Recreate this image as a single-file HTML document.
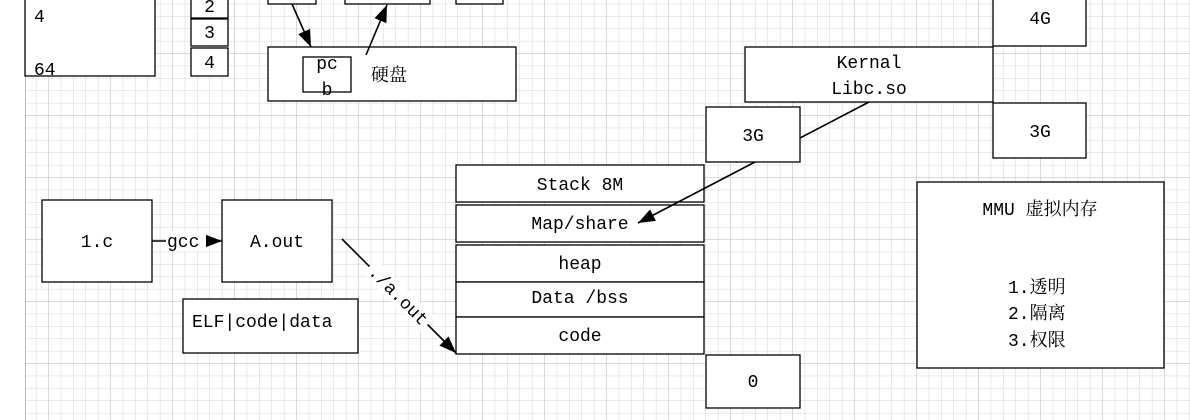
<!DOCTYPE html>
<html><head><meta charset="utf-8"><style>
html,body{margin:0;padding:0;background:#fff;}
svg{display:block;}
text{font-family:"Liberation Mono","Noto Serif CJK SC",monospace;font-size:18px;fill:#000;}
</style></head><body>
<svg width="1190" height="420" viewBox="0 0 1190 420" xmlns="http://www.w3.org/2000/svg">
<defs>
<pattern id="g" x="11.1" y="3.7" width="12.4" height="12.4" patternUnits="userSpaceOnUse">
<path d="M0 0H12.4M0 0V12.4" stroke="#d6d6d6" stroke-width="1" fill="none"/>
</pattern>
<pattern id="G" x="48.3" y="363.3" width="62" height="62" patternUnits="userSpaceOnUse">
<path d="M0 0H62M0 0V62" stroke="#c8c8c8" stroke-width="1" fill="none"/>
</pattern>
<marker id="b" viewBox="0 0 10 10" refX="10" refY="5" markerWidth="17" markerHeight="13" orient="auto" markerUnits="userSpaceOnUse" preserveAspectRatio="none">
<path d="M0 0L10 5L0 10z" fill="#000"/>
</marker>
</defs>
<rect x="25" y="0" width="1165" height="420" fill="url(#g)"/>
<rect x="25" y="0" width="1165" height="420" fill="url(#G)"/>
<line x1="25.5" y1="0" x2="25.5" y2="420" stroke="#bbb"/>
<g fill="#fff" stroke="#000" stroke-width="1.3">
<rect x="25" y="-2" width="130" height="78"/>
<rect x="191" y="-2" width="37" height="20"/>
<rect x="191" y="19" width="37" height="27"/>
<rect x="191" y="48" width="37" height="28"/>
<rect x="268" y="-2" width="48" height="6"/>
<rect x="345" y="-2" width="85" height="6"/>
<rect x="456" y="-2" width="47" height="6"/>
<rect x="268" y="47" width="248" height="54"/>
<rect x="303" y="57" width="48" height="35"/>
<rect x="42" y="200" width="110" height="82"/>
<rect x="222" y="200" width="110" height="82"/>
<rect x="183" y="299" width="175" height="54"/>
<rect x="456" y="165" width="248" height="37"/>
<rect x="456" y="205" width="248" height="37"/>
<rect x="456" y="245" width="248" height="37"/>
<rect x="456" y="282" width="248" height="35"/>
<rect x="456" y="317" width="248" height="37"/>
<rect x="706" y="355" width="94" height="53"/>
<rect x="993" y="-2" width="93" height="48"/>
<rect x="745" y="47" width="248" height="55"/>
<rect x="706" y="107" width="94" height="55"/>
<rect x="993" y="103" width="93" height="55"/>
<rect x="917" y="182" width="247" height="186"/>
</g>
<g stroke="#000" stroke-width="1.6" fill="none">
<line x1="292" y1="4" x2="311" y2="47" marker-end="url(#b)"/>
<line x1="366" y1="55" x2="387" y2="5" marker-end="url(#b)"/>
<line x1="152" y1="241" x2="222" y2="241" marker-end="url(#b)"/>
<line x1="342" y1="239" x2="456" y2="353" marker-end="url(#b)"/>
<line x1="869" y1="102" x2="800" y2="138"/>
<line x1="755" y1="162" x2="638" y2="223" marker-end="url(#b)"/>
</g>
<rect x="166" y="231" width="40" height="20" fill="#fff"/>
<text x="167" y="247">gcc</text>
<g transform="translate(398,296) rotate(45)">
<rect x="-41" y="-11" width="82" height="20" fill="#fff"/>
<text x="0" y="5" text-anchor="middle">./a.out</text>
</g>
<text x="34" y="22">4</text>
<text x="34" y="75">64</text>
<text x="209.5" y="12" text-anchor="middle">2</text>
<text x="209.5" y="38" text-anchor="middle">3</text>
<text x="209.5" y="68" text-anchor="middle">4</text>
<text x="327" y="69" text-anchor="middle" font-size="16">pc</text>
<text x="327" y="95" text-anchor="middle" font-size="16">b</text>
<text x="371" y="81">硬盘</text>
<text x="97" y="247" text-anchor="middle">1.c</text>
<text x="277" y="247" text-anchor="middle">A.out</text>
<text x="192" y="327">ELF|code|data</text>
<text x="580" y="190" text-anchor="middle">Stack 8M</text>
<text x="580" y="229" text-anchor="middle">Map/share</text>
<text x="580" y="269" text-anchor="middle">heap</text>
<text x="580" y="303" text-anchor="middle">Data /bss</text>
<text x="580" y="341" text-anchor="middle">code</text>
<text x="753" y="387" text-anchor="middle">0</text>
<text x="1040" y="24" text-anchor="middle">4G</text>
<text x="869" y="68" text-anchor="middle">Kernal</text>
<text x="869" y="94" text-anchor="middle">Libc.so</text>
<text x="753" y="141" text-anchor="middle">3G</text>
<text x="1040" y="137" text-anchor="middle">3G</text>
<text x="1040" y="215" text-anchor="middle">MMU  虚拟内存</text>
<text x="1008" y="293">1.透明</text>
<text x="1008" y="319">2.隔离</text>
<text x="1008" y="346">3.权限</text>
</svg>
</body></html>
